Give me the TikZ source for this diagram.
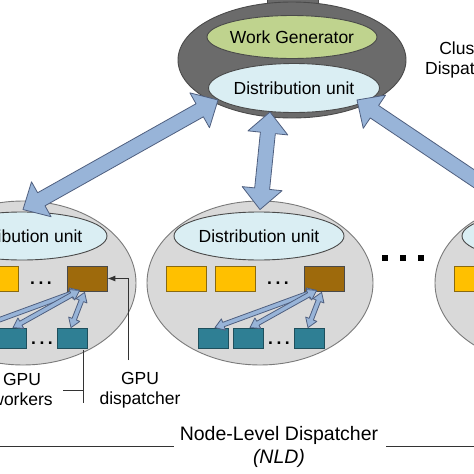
\documentclass[tikz,border=0pt]{standalone}
\usepackage{fontspec}
\setmainfont{Liberation Sans}
\usetikzlibrary{calc,shapes.geometric,arrows.meta}
\definecolor{darkel}{HTML}{6B6B6B}
\definecolor{darkbord}{HTML}{4A4A4A}
\definecolor{wgc}{HTML}{BFD38E}
\definecolor{distc}{HTML}{DAEEF3}
\definecolor{nodeg}{HTML}{D9D9D9}
\definecolor{nodebord}{HTML}{7A7A7A}
\definecolor{yel}{HTML}{FFC000}
\definecolor{ybord}{HTML}{8A6A10}
\definecolor{brn}{HTML}{9E6A0C}
\definecolor{tealc}{HTML}{2F7F94}
\definecolor{tbord}{HTML}{1E4F5C}
\definecolor{arrfill}{HTML}{98B4D8}
\definecolor{arrbord}{HTML}{4F5F7F}
\newcommand\blockarr[5]{%
  \path ($(#1)!#5!(#2)$) coordinate (ba1) ($(#2)!#5!(#1)$) coordinate (ba2);
  \draw[barrow] (#1) -- ($(ba1)!#4!90:(#2)$) -- ($(ba1)!#3!90:(#2)$)
    -- ($(ba2)!#3!-90:(#1)$) -- ($(ba2)!#4!-90:(#1)$) -- (#2)
    -- ($(ba2)!#4!90:(#1)$) -- ($(ba2)!#3!90:(#1)$)
    -- ($(ba1)!#3!-90:(#2)$) -- ($(ba1)!#4!-90:(#2)$) -- cycle;}
\newcommand\smalldots{.\hspace{3.5pt}.\hspace{3.5pt}.}
\tikzset{
  nodeell/.style={ellipse, draw=nodebord, fill=nodeg, line width=0.9pt, minimum width=226pt, minimum height=164pt, inner sep=0pt},
  distell/.style={ellipse, draw=darkbord, fill=distc, line width=0.9pt, minimum width=170pt, minimum height=48pt, inner sep=0pt, font=\fontsize{17.5}{21}\selectfont},
  ybox/.style={rectangle, draw=ybord, fill=yel, minimum width=40pt, minimum height=25pt, inner sep=0pt, line width=0.8pt},
  bbox/.style={ybox, draw=darkbord, fill=brn},
  tbox/.style={rectangle, draw=tbord, fill=tealc, minimum width=30pt, minimum height=20pt, inner sep=0pt, line width=0.8pt},
  barrow/.style={draw=arrbord, fill=arrfill, line width=0.8pt, line join=round},
  lbl/.style={font=\fontsize{17.5}{20}\selectfont, align=center, inner sep=0pt},
  sdots/.style={font=\bfseries\fontsize{17.5}{20}\selectfont, inner sep=0pt},
  annline/.style={draw=black!80, line width=0.9pt}
}
\begin{document}
\begin{tikzpicture}[x=1pt,y=-1pt]
\useasboundingbox (0,0) rectangle (474,474);
\fill[white] (0,0) rectangle (474,474);

% node-level dispatchers
\foreach \n/\cx in {L/23, M/260, R/548}{
  \node[nodeell] (n\n) at (\cx,283) {};
  \node[distell] (d\n) at ($(n\n)+(-1,-47)$) {\makebox[0pt]{Distribution unit}};
  \node[ybox] (ya\n) at ($(n\n)+(-74,-4.5)$) {};
  \node[ybox] (yb\n) at ($(n\n)+(-25,-4.5)$) {};
  \node[sdots] (yd\n) at ($(n\n)+(18,0)$) {\smalldots};
  \node[bbox] (br\n) at ($(n\n)+(64,-4.5)$) {};
  \node[tbox] (ta\n) at ($(n\n)+(-47,55)$) {};
  \node[tbox] (tb\n) at ($(n\n)+(-12,55)$) {};
  \node[sdots] (td\n) at ($(n\n)+(19,60)$) {\smalldots};
  \node[tbox] (tc\n) at ($(n\n)+(49,55)$) {};
  \coordinate (p1\n) at ($(br\n.south west)+(13,-1)$);
  \coordinate (p2\n) at ($(br\n.south west)+(18,1)$);
  \coordinate (q1\n) at ($(ta\n.north)+(2,0)$);
  \coordinate (q2\n) at ($(tb\n.north)+(2,0)$);
  \coordinate (q3\n) at ($(tc\n.north)+(-1,0)$);
  \blockarr{p1\n}{q1\n}{2.3pt}{6pt}{9pt}
  \blockarr{p1\n}{q2\n}{2.3pt}{6pt}{9pt}
  \blockarr{p2\n}{q3\n}{2.3pt}{6pt}{9pt}
}

% big dots
\foreach \i/\x in {1/385,2/403,3/421}{
  \fill[black] (\x-3,255) rectangle (\x+3,261);
}

% cluster dispatcher
\draw[fill=darkel, draw=darkbord, line width=0.9pt] (267,-5) rectangle (318,8);
\node[ellipse, draw=darkbord, fill=darkel, line width=0.9pt, minimum width=228pt, minimum height=116pt, inner sep=0pt] (cd) at (292,60) {};
\node[ellipse, draw=darkbord, fill=wgc, line width=0.9pt, minimum width=170pt, minimum height=43pt, inner sep=0pt, font=\fontsize{17.5}{21}\selectfont] (wg) at (292,37) {\makebox[0pt]{Work Generator}};
\node[distell, minimum width=171pt, minimum height=49pt] (du) at (294,88) {\makebox[0pt]{Distribution unit}};
\node[lbl] (cl) at (467,60) {Cluster\\Dispatcher};

% big arrows
\coordinate (a1t) at (218,100);
\coordinate (a1b) at ($(dL.north)+(1,-2)$);
\coordinate (a2t) at (270,112);
\coordinate (a2b) at ($(dM.north)+(1,-2)$);
\coordinate (a3t) at (357,100);
\coordinate (a3b) at ($(dR.north)+(-27,-2)$);
\blockarr{a1t}{a1b}{7.5pt}{20pt}{21pt}
\blockarr{a2t}{a2b}{7.5pt}{20pt}{21pt}
\blockarr{a3t}{a3b}{7.5pt}{20pt}{21pt}

% annotations
\coordinate (gdv) at (128,360);
\draw[annline, -{Latex[length=8pt,width=6pt]}] (gdv) |- (brL.east);
\node[lbl] (gpud) at (140,390) {GPU\\dispatcher};
\node[lbl] (gpuw) at (22,389) {GPU\\workers};
\coordinate (wv1) at (83,350);
\coordinate (wv2) at (83,403);
\coordinate (wh1) at (63,390);
\coordinate (wh2) at (83,390);
\draw[annline] (wv1) -- (wv2);
\draw[annline] (wh1) -- (wh2);

\node[font=\fontsize{19.5}{23}\selectfont, align=center, inner sep=0pt] (nld) at (279,447) {Node-Level Dispatcher\\\textit{(NLD)}};
\coordinate (nl1) at (0,446);
\coordinate (nl2) at (174,446);
\coordinate (nl3) at (386,446);
\coordinate (nl4) at (474,446);
\draw[annline] (nl1) -- (nl2);
\draw[annline] (nl3) -- (nl4);
\end{tikzpicture}
\end{document}
